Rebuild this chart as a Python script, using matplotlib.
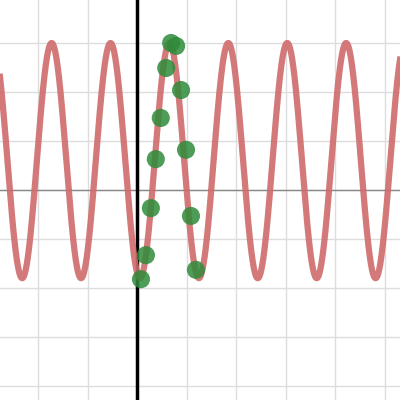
import numpy as np
import matplotlib.pyplot as plt

pts_x = [0.08, 0.18, 0.28, 0.38, 0.48, 0.59, 0.69, 0.79, 0.89, 0.99, 1.09, 1.19]
pts_y = [-1.82, -1.33, -0.37, 0.63, 1.47, 2.49, 3.0, 2.94, 2.04, 0.82, -0.53, -1.63]

# fitted sinusoid parameters
center = 0.6
amplitude = 2.4
period = 1.19
phase = 0.06

fig = plt.figure(figsize=(4, 4), dpi=100)
ax = fig.add_axes([0, 0, 1, 1])
xmin, xmax = -137 / 49.5, 263 / 49.5
ymin, ymax = -210 / 49, 190 / 49
ax.set_xlim(xmin, xmax)
ax.set_ylim(ymin, ymax)

for gx in range(-3, 6):
    ax.axvline(gx, color="#dddddd", lw=1, zorder=0)
for gy in range(-4, 4):
    ax.axhline(gy, color="#dddddd", lw=1, zorder=0)
ax.axhline(0, color="#888888", lw=1, zorder=1)
ax.axvline(0, color="black", lw=2.5, zorder=1)

xs = np.linspace(xmin, xmax, 2000)
ys = center - amplitude * np.cos(2 * np.pi * (xs - phase) / period)
ax.plot(xs, ys, color="#d06b6b", lw=4.5, alpha=0.9, zorder=2)
ax.scatter(pts_x, pts_y, s=170, color="#2e8b3a", alpha=0.85, edgecolors="none", zorder=3)

ax.set_xticks([])
ax.set_yticks([])
for s in ax.spines.values():
    s.set_visible(False)
fig.savefig("out.png", dpi=100)
